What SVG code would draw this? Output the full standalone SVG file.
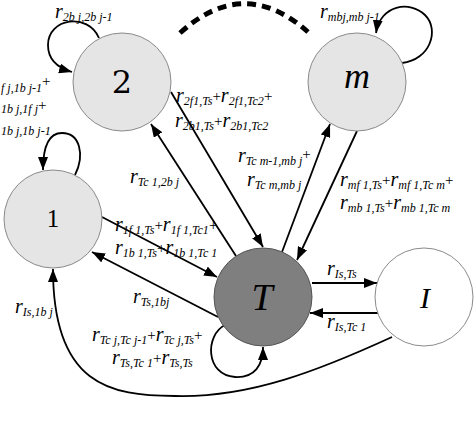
<svg xmlns="http://www.w3.org/2000/svg" width="474" height="434" viewBox="0 0 474 434">
<defs>
<marker id="ah" markerUnits="userSpaceOnUse" markerWidth="14" markerHeight="10" refX="13" refY="5" orient="auto">
<path d="M0,0 L13,5 L0,10 z" fill="#000"/>
</marker>
<style>
.n{fill:#e5e5e5;stroke:#8a8a8a;stroke-width:1}
.e{fill:none;stroke:#000;stroke-width:1.8;marker-end:url(#ah)}
.lbl{font-style:italic;font-size:20px;fill:#000}
.s{font-size:12px}
.p{font-style:normal;font-size:15px}
.nl{text-anchor:middle;fill:#000}
</style>
</defs>
<rect width="474" height="434" fill="#fff"/>

<g id="connectors">
<path d="M180,33 Q244,-25 308,32" fill="none" stroke="#000" stroke-width="5" stroke-dasharray="9 6"/>
<path class="e" d="M99,38 C88,12 48,18 48,45 C48,60 58,68 72,72"/>
<path class="e" d="M402,63 C430,60 440,30 425,15 C410,0 380,5 376,33"/>
<path class="e" d="M75,175 C85,155 80,133 62,133 C48,133 43,148 43,170"/>
<path class="e" d="M225,325 C205,335 205,375 235,377 C255,378 263,365 263,347"/>
<path class="e" d="M102,217 L217,277"/>
<path class="e" d="M218,317 L92,252"/>
<path class="e" d="M171,92 L263,247"/>
<path class="e" d="M236,256 L151,124"/>
<path class="e" d="M282,252 L330,124"/>
<path class="e" d="M357,131 L297,260"/>
<path class="e" d="M312,283 L377,283"/>
<path class="e" d="M380,313 L310,313"/>
<path class="e" d="M392,337 C320,370 250,398 175,396 C110,396 53,385 53,269"/>
</g>

<g id="node-2"><circle class="n" cx="122" cy="82" r="49"/><text class="nl" x="122" y="93" font-family="DejaVu Serif, serif" font-size="32">2</text></g>
<g id="node-m"><circle class="n" cx="357" cy="82" r="49"/><text class="nl" x="357" y="88" font-family="Liberation Serif" font-size="36" font-style="italic">m</text></g>
<g id="node-1"><circle class="n" cx="53" cy="219" r="49"/><text class="nl" x="53" y="227" font-family="Times New Roman" font-size="25">1</text></g>
<g id="node-T"><circle cx="263" cy="297" r="49" fill="#7f7f7f" stroke="#555" stroke-width="1"/><text class="nl" x="262" y="310" font-family="Liberation Serif, serif" font-size="38" font-style="italic">T</text></g>
<g id="node-I"><circle cx="424" cy="297" r="49" fill="#fff" stroke="#8a8a8a" stroke-width="1"/><text class="nl" x="425" y="308" font-family="serif" font-size="30" font-style="italic">I</text></g>

<g id="labels" font-family="Liberation Serif">
<text class="lbl" x="55" y="18">r<tspan class="s" dy="3">2b j,2b j-1</tspan></text>
<text class="lbl" x="320" y="18">r<tspan class="s" dy="3">mbj,mb j-1</tspan></text>
<text class="lbl" x="1" y="92"><tspan class="s">f j,1b j-1</tspan><tspan class="p" dy="-6">+</tspan></text>
<text class="lbl" x="1" y="113"><tspan class="s">1b j,1f j</tspan><tspan class="p" dy="-3">+</tspan></text>
<text class="lbl" x="1" y="135"><tspan class="s">1b j,1b j-1</tspan></text>

<text class="lbl" x="176" y="102">r<tspan class="s" dy="3">2f1,Ts</tspan><tspan class="p" dy="-4">+</tspan><tspan dy="1">r</tspan><tspan class="s" dy="3">2f1,Tc2</tspan><tspan class="p" dy="-4">+</tspan></text>
<text class="lbl" x="175" y="127">r<tspan class="s" dy="3">2b1,Ts</tspan><tspan class="p" dy="-4">+</tspan><tspan dy="1">r</tspan><tspan class="s" dy="3">2b1,Tc2</tspan></text>

<text class="lbl" x="130" y="183">r<tspan class="s" dy="3">Tc 1,2b j</tspan></text>

<text class="lbl" x="238" y="162">r<tspan class="s" dy="3">Tc m-1,mb j</tspan><tspan class="p" dy="-6">+</tspan></text>
<text class="lbl" x="247" y="186">r<tspan class="s" dy="3">Tc m,mb j</tspan></text>

<text class="lbl" x="340" y="186">r<tspan class="s" dy="3">mf 1,Ts</tspan><tspan class="p" dy="-4">+</tspan><tspan dy="1">r</tspan><tspan class="s" dy="3">mf 1,Tc m</tspan><tspan class="p" dy="-4">+</tspan></text>
<text class="lbl" x="340" y="209">r<tspan class="s" dy="3">mb 1,Ts</tspan><tspan class="p" dy="-4">+</tspan><tspan dy="1">r</tspan><tspan class="s" dy="3">mb 1,Tc m</tspan></text>

<text class="lbl" x="115" y="231">r<tspan class="s" dy="3">1f 1,Ts</tspan><tspan class="p" dy="-4">+</tspan><tspan dy="1">r</tspan><tspan class="s" dy="3">1f 1,Tc1</tspan><tspan class="p" dy="-4">+</tspan></text>
<text class="lbl" x="115" y="254">r<tspan class="s" dy="3">1b 1,Ts</tspan><tspan class="p" dy="-4">+</tspan><tspan dy="1">r</tspan><tspan class="s" dy="3">1b 1,Tc 1</tspan></text>

<text class="lbl" x="133" y="303">r<tspan class="s" dy="3">Ts,1bj</tspan></text>
<text class="lbl" x="15" y="313">r<tspan class="s" dy="3">Is,1b j</tspan></text>

<text class="lbl" x="92" y="341">r<tspan class="s" dy="3">Tc j,Tc j-1</tspan><tspan class="p" dy="-4">+</tspan><tspan dy="1">r</tspan><tspan class="s" dy="3">Tc j,Ts</tspan><tspan class="p" dy="-4">+</tspan></text>
<text class="lbl" x="112" y="364">r<tspan class="s" dy="3">Ts,Tc 1</tspan><tspan class="p" dy="-4">+</tspan><tspan dy="1">r</tspan><tspan class="s" dy="3">Ts,Ts</tspan></text>

<text class="lbl" x="327" y="275">r<tspan class="s" dy="3">Is,Ts</tspan></text>
<text class="lbl" x="327" y="328">r<tspan class="s" dy="3">Is,Tc 1</tspan></text>
</g>
</svg>
